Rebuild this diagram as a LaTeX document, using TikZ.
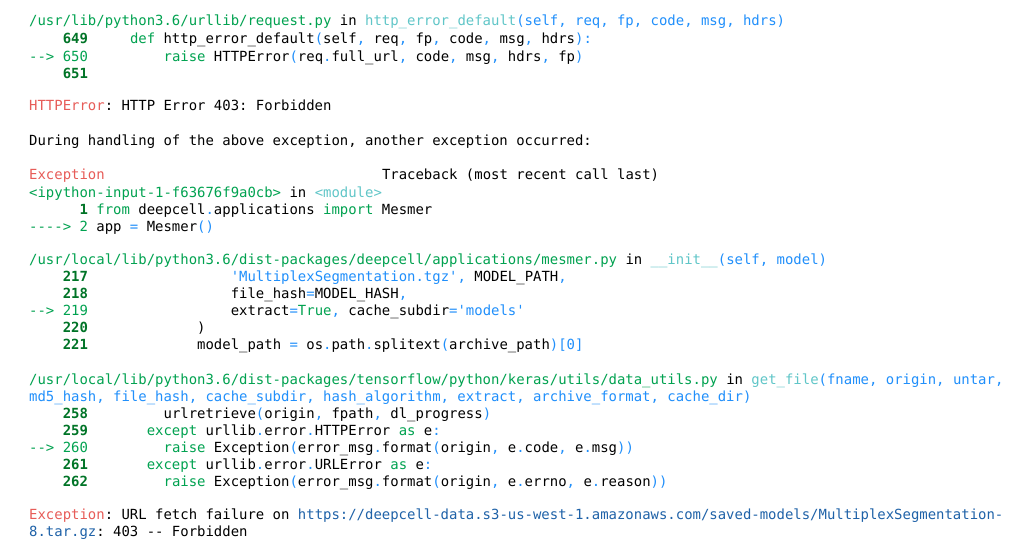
\documentclass[tikz,border=0pt]{standalone}
\usepackage{fontspec}
\setmonofont{DejaVu Sans Mono}
\definecolor{tg}{HTML}{00A250}
\definecolor{td}{HTML}{007427}
\definecolor{tc}{HTML}{60C6C8}
\definecolor{tb}{HTML}{208FFB}
\definecolor{tr}{HTML}{E75C58}
\definecolor{tu}{HTML}{1F62A8}
\definecolor{tk}{HTML}{000000}
\newcommand\cG[1]{\textcolor{tg}{#1}}
\newcommand\cD[1]{\textcolor{td}{\bfseries #1}}
\newcommand\cC[1]{\textcolor{tc}{#1}}
\newcommand\cB[1]{\textcolor{tb}{#1}}
\newcommand\cR[1]{\textcolor{tr}{#1}}
\newcommand\cU[1]{\textcolor{tu}{#1}}
\newcommand\us{\textunderscore}
\begin{document}
\begin{tikzpicture}[x=1pt,y=1pt,
  txt/.style={anchor=base west,inner sep=0pt,font=\ttfamily\fontsize{13.95pt}{16pt}\selectfont,text=tk}]
\fill[white] (0,0) rectangle (1030,-558);
\useasboundingbox (0,0) rectangle (1030,-558);
\def\C#1{29+8.4*#1}
% block 1
\node[txt] (l1) at (\C{0},-25) {\cG{/usr/lib/python3.6/urllib/request.py} in \cC{http\us error\us default}\cB{(self, req, fp, code, msg, hdrs)}};
\node[txt] (l2a) at (\C{4},-43) {\cD{649}};
\node[txt] (l2b) at (\C{12},-43) {\cG{def} http\us error\us default\cB{(}self\cB{,} req\cB{,} fp\cB{,} code\cB{,} msg\cB{,} hdrs\cB{):}};
\node[txt] (l3a) at (\C{0},-61) {\cG{-{}-> 650}};
\node[txt] (l3b) at (\C{16},-61) {\cG{raise} HTTPError\cB{(}req\cB{.}full\us url\cB{,} code\cB{,} msg\cB{,} hdrs\cB{,} fp\cB{)}};
\node[txt] (l4a) at (\C{4},-78) {\cD{651}};
\node[txt] (l5) at (\C{0},-110) {\cR{HTTPError}: HTTP Error 403: Forbidden};
\node[txt] (l6) at (\C{0},-145) {During handling of the above exception, another exception occurred:};
% block 2
\node[txt] (l7a) at (\C{0},-179) {\cR{Exception}};
\node[txt] (l7b) at (\C{42},-179) {Traceback (most recent call last)};
\node[txt] (l8) at (\C{0},-197) {\cG{<ipython-input-1-f63676f9a0cb>} in \cC{<module>}};
\node[txt] (l9a) at (\C{6},-214) {\cD{1}};
\node[txt] (l9b) at (\C{8},-214) {\cG{from} deepcell\cB{.}applications \cG{import} Mesmer};
\node[txt] (l10a) at (\C{0},-231) {\cG{-{}-{}-{}-> 2}};
\node[txt] (l10b) at (\C{8},-231) {app \cB{=} Mesmer\cB{()}};
% block 3
\node[txt] (l11) at (\C{0},-264) {\cG{/usr/local/lib/python3.6/dist-packages/deepcell/applications/mesmer.py} in \cC{\us\us init\us\us}\cB{(self, model)}};
\node[txt] (l12a) at (\C{4},-281) {\cD{217}};
\node[txt] (l12b) at (\C{24},-281) {\cB{'MultiplexSegmentation.tgz',} MODEL\us PATH\cB{,}};
\node[txt] (l13a) at (\C{4},-298) {\cD{218}};
\node[txt] (l13b) at (\C{24},-298) {file\us hash\cB{=}MODEL\us HASH\cB{,}};
\node[txt] (l14a) at (\C{0},-315) {\cG{-{}-> 219}};
\node[txt] (l14b) at (\C{24},-315) {extract\cB{=}\cG{True}\cB{,} cache\us subdir\cB{='models'}};
\node[txt] (l15a) at (\C{4},-332) {\cD{220}};
\node[txt] (l15b) at (\C{20},-332) {)};
\node[txt] (l16a) at (\C{4},-349) {\cD{221}};
\node[txt] (l16b) at (\C{20},-349) {model\us path \cB{=} os\cB{.}path\cB{.}splitext\cB{(}archive\us path\cB{)[0]}};
% block 4
\node[txt] (l17) at (\C{0},-384) {\cG{/usr/local/lib/python3.6/dist-packages/tensorflow/python/keras/utils/data\us utils.py} in \cC{get\us file}\cB{(fname, origin, untar,}};
\node[txt] (l18) at (\C{0},-401) {\cB{md5\us hash, file\us hash, cache\us subdir, hash\us algorithm, extract, archive\us format, cache\us dir)}};
\node[txt] (l19a) at (\C{4},-418) {\cD{258}};
\node[txt] (l19b) at (\C{16},-418) {urlretrieve\cB{(}origin\cB{,} fpath\cB{,} dl\us progress\cB{)}};
\node[txt] (l20a) at (\C{4},-435) {\cD{259}};
\node[txt] (l20b) at (\C{14},-435) {\cG{except} urllib\cB{.}error\cB{.}HTTPError \cG{as} e\cB{:}};
\node[txt] (l21a) at (\C{0},-452) {\cG{-{}-> 260}};
\node[txt] (l21b) at (\C{16},-452) {\cG{raise} Exception\cB{(}error\us msg\cB{.}format\cB{(}origin\cB{,} e\cB{.}code\cB{,} e\cB{.}msg\cB{))}};
\node[txt] (l22a) at (\C{4},-469) {\cD{261}};
\node[txt] (l22b) at (\C{14},-469) {\cG{except} urllib\cB{.}error\cB{.}URLError \cG{as} e\cB{:}};
\node[txt] (l23a) at (\C{4},-486) {\cD{262}};
\node[txt] (l23b) at (\C{16},-486) {\cG{raise} Exception\cB{(}error\us msg\cB{.}format\cB{(}origin\cB{,} e\cB{.}errno\cB{,} e\cB{.}reason\cB{))}};
\node[txt] (l24) at (\C{0},-519) {\cR{Exception}: URL fetch failure on \cU{https://deepcell-data.s3-us-west-1.amazonaws.com/saved-models/MultiplexSegmentation-}};
\node[txt] (l25) at (\C{0},-536) {\cU{8.tar.gz}: 403 -{}- Forbidden};
\end{tikzpicture}
\end{document}
